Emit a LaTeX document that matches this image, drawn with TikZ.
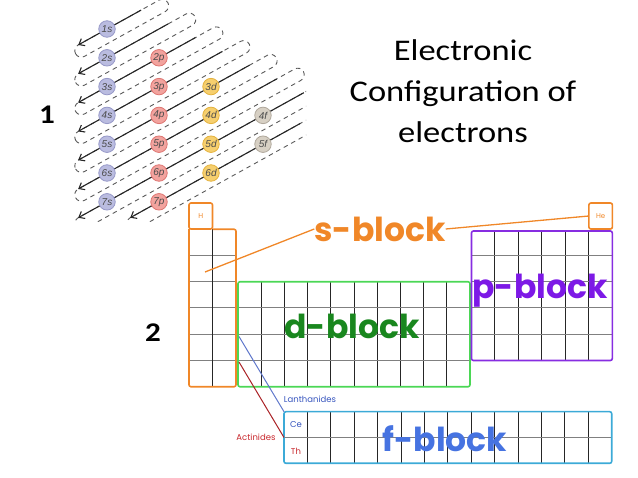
\documentclass[tikz,border=0pt]{standalone}
\usepackage{fontspec}
\setsansfont{Liberation Sans}
\newfontfamily\titlefont[FakeStretch=1.15]{Carlito}
\newfontfamily\comicfont{Poppins}
\usepackage{tikz}
\usetikzlibrary{arrows.meta,positioning}
\definecolor{clrS}{RGB}{186,188,224}
\definecolor{clrSd}{RGB}{150,152,200}
\definecolor{clrP}{RGB}{242,163,158}
\definecolor{clrPd}{RGB}{222,118,114}
\definecolor{clrD}{RGB}{246,207,110}
\definecolor{clrDd}{RGB}{228,178,62}
\definecolor{clrF}{RGB}{215,208,196}
\definecolor{clrFd}{RGB}{176,168,156}
\definecolor{clrOr}{RGB}{240,135,40}
\definecolor{clrGr}{RGB}{75,215,85}
\definecolor{clrGrT}{RGB}{25,135,30}
\definecolor{clrPu}{RGB}{135,45,225}
\definecolor{clrPuT}{RGB}{125,25,230}
\definecolor{clrFb}{RGB}{60,170,215}
\definecolor{clrFbT}{RGB}{70,115,225}
\definecolor{clrLa}{RGB}{55,85,190}
\definecolor{clrAc}{RGB}{200,40,45}
\tikzset{
  orbital/.style={circle,inner sep=0pt,minimum size=16.5pt,line width=0.8pt,
    font=\sffamily\itshape\fontsize{10}{10}\selectfont,text=black!70},
  orbS/.style={orbital,draw=clrSd,fill=clrS},
  orbP/.style={orbital,draw=clrPd,fill=clrP},
  orbD/.style={orbital,draw=clrDd,fill=clrD},
  orbF/.style={orbital,draw=clrFd,fill=clrF},
  fillorder/.style={-{Straight Barb[length=5pt,width=8pt]},line width=1.1pt,
    draw=black!85},
  capsule/.style={dash pattern=on 4.5pt off 4pt,line width=0.9pt,
    draw=black!65},
  frame/.style={rectangle,inner sep=0pt,outer sep=0pt,line width=1.6pt,
    rounded corners=2pt},
  cell/.style={frame,draw=clrOr,minimum width=23.5pt,minimum height=26pt,
    text=clrOr,font=\comicfont\fontsize{7}{7}\selectfont},
  gridv/.style={line width=1pt,draw=black!85},
  gridh/.style={line width=1pt,draw=black!50},
  blocklabel/.style={font=\comicfont\bfseries\fontsize{33}{33}\selectfont,
    inner sep=0pt},
  smalllabel/.style={font=\comicfont\fontsize{8.5}{8.5}\selectfont,
    inner sep=0pt},
  numlabel/.style={font=\titlefont\bfseries\fontsize{27}{27}\selectfont},
  sconn/.style={line width=1.3pt,draw=clrOr}
}

\begin{document}
\begin{tikzpicture}[x=1pt,y=-1pt]
  \useasboundingbox (0,0) rectangle (638,478);

  % Title
  \node[font=\titlefont\fontsize{30}{41}\selectfont,align=center] (title)
    at (463,91) {Electronic\\Configuration of\\electrons};
  \node[numlabel] (num1) at (47,115) {1};
  \node[numlabel] (num2) at (153,333) {2};

  % Filling order diagram
  \begin{scope}
    \clip (60,0) rectangle (306,222);
    \foreach \k in {1,...,8}{
      \pgfmathsetmacro\tlo{\k<8 ? -33 : 26.5}
      \pgfmathsetmacro\thi{\k<8 ? 39+31*(\k-1) : 221}
      \begin{scope}[shift={(107,{29+28.8*(\k-1)})},rotate=29]
        \draw[capsule,rounded corners=6.5pt] ({\tlo-6.5},0) rectangle
          ({\thi+27},13);
        \draw[fillorder] (\thi,0) -- (\tlo,0);
      \end{scope}
    }
  \end{scope}
  \foreach \sub/\sty/\l/\rows in {s/orbS/0/{1,2,3,4,5,6,7},
      p/orbP/1/{2,3,4,5,6,7}, d/orbD/2/{3,4,5,6}, f/orbF/3/{4,5}}{
    \foreach \n in \rows
      \node[\sty] (o\n\sub) at ({107+52*\l},{29+28.8*(\n-1)}) {\n\sub};
  }

  % s-block
  \foreach \r in {2,...,6}
    \draw[gridh] (189,{203+26.25*\r}) -- (236,{203+26.25*\r});
  \draw[gridv] (212.5,229.25) -- (212.5,386.75);
  \draw[sconn,line width=1.6pt,rounded corners=2pt] (212.5,229.25) --
    (236,229.25) -- (236,386.75) -- (189,386.75) -- (189,229.25);
  \node[cell] (H) at (200.75,216) {H};

  % d-block
  \foreach \c in {1,...,9}
    \draw[gridv] ({238+23.2*\c},281.75) -- ++(0,105);
  \foreach \r in {4,5,6}
    \draw[gridh] (238,{203+26.25*\r}) -- (470,{203+26.25*\r});
  \node[frame,draw=clrGr,minimum width=232pt,minimum height=105pt,
    anchor=north west] (dblock) at (238,281.75) {};

  % p-block
  \foreach \c in {1,...,5}
    \draw[gridv] ({471.5+23.47*\c},231) -- (471.5+23.47*\c,360.5);
  \foreach \r in {2,...,5}
    \draw[gridh] (471.5,{203+26.25*\r}) -- (612.3,{203+26.25*\r});
  \node[frame,draw=clrPu,minimum width=140.8pt,minimum height=129.5pt,
    anchor=north west] (pblock) at (471.5,231) {};
  \node[cell] (He) at (600.65,216) {He};

  % f-block
  \foreach \c in {1,...,13}
    \draw[gridv] ({284+23.41*\c},411.7) -- ++(0,51.6);
  \draw[gridh] (284,437.5) -- (611.7,437.5);
  \node[frame,draw=clrFb,minimum width=327.7pt,minimum height=51.6pt,
    anchor=north west] (fblock) at (284,411.7) {};
  \node[smalllabel,text=clrLa] (Ce) at (296,425) {Ce};
  \node[smalllabel,text=clrAc] (Th) at (296,451) {Th};
  \node[smalllabel,text=clrLa] (lanth) at (310,399) {Lanthanides};
  \node[smalllabel,text=clrAc] (actin) at (256,437) {Actinides};
  \coordinate (lsrc) at (239,336.5);
  \coordinate (asrc) at (239,362);
  \draw[line width=1pt,draw=clrLa!80] (lsrc) -- (fblock.north west);
  \draw[line width=1pt,draw=clrAc!85!black] (asrc) -- (fblock.west);

  % block names
  \node[blocklabel,text=clrOr] (slabel) at (380,229) {s-block};
  \node[blocklabel,text=clrGrT] (dlabel) at (352,326) {d-block};
  \node[blocklabel,text=clrPuT] (plabel) at (540,291) {p-block};
  \node[blocklabel,text=clrFbT] (flabel) at (445,439) {f-block};
  \coordinate (sdot) at (205,272);
  \draw[sconn] (slabel.west) -- (sdot);
  \draw[sconn] (slabel.east) -- (He.west);
\end{tikzpicture}
\end{document}
